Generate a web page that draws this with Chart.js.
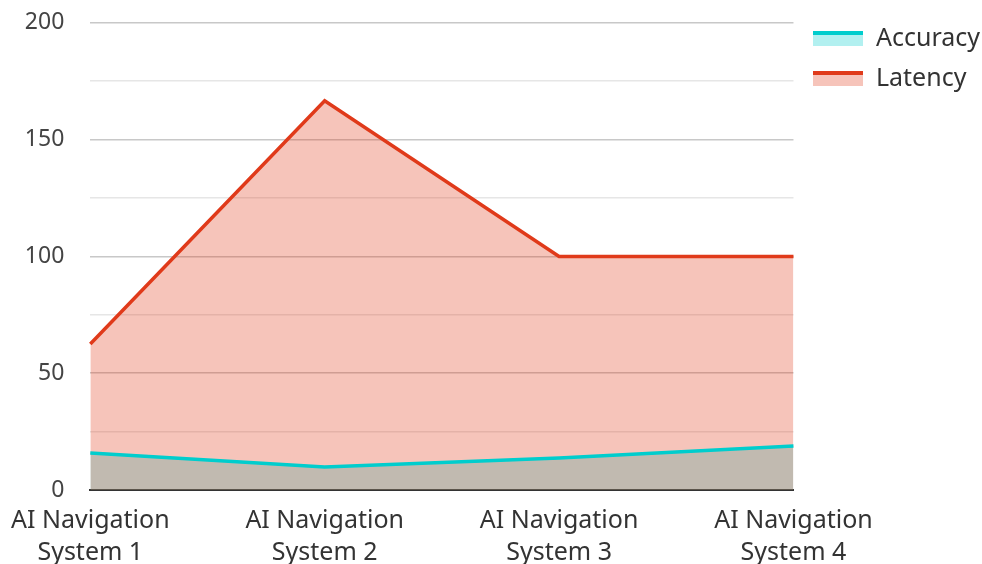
<!DOCTYPE html>
<html>
<head>
<meta charset="utf-8">
<script src="https://cdn.jsdelivr.net/npm/chart.js@4"></script>
<style>
html,body{margin:0;padding:0;background:#fff;}
#wrap{width:982px;height:564px;}
</style>
</head>
<body>
<div id="wrap"><canvas id="c" width="982" height="564"></canvas></div>
<script>
const categories = [["AI Navigation","System 1"],["AI Navigation","System 2"],["AI Navigation","System 3"],["AI Navigation","System 4"]];
const accuracy = [15.8, 9.8, 13.7, 18.8];
const latency = [62.5, 166.6, 100, 100];
const yTicks = [0, 50, 100, 150, 200];

const latColor = 'rgb(224,58,26)';
const latFill = 'rgba(224,58,26,0.3)';
const accColor = 'rgb(0,205,205)';
const accFill = 'rgba(0,205,205,0.3)';

function legendIcon(line, fill){
  const c = document.createElement('canvas');
  c.width = 50; c.height = 15;
  const x = c.getContext('2d');
  x.fillStyle = fill; x.fillRect(0,0,50,15);
  x.fillStyle = line; x.fillRect(0,0,50,4);
  return c;
}

Chart.defaults.font.family = '"Noto Sans", "Open Sans", sans-serif';
Chart.defaults.font.size = 22;

new Chart(document.getElementById('c'), {
  type: 'line',
  data: {
    labels: categories,
    datasets: [
      {label:'Latency', data: latency, borderColor: latColor, backgroundColor: latFill, fill: 'origin', borderWidth: 3.5, pointRadius: 0, tension: 0, pointStyle: legendIcon(latColor, latFill)},
      {label:'Accuracy', data: accuracy, borderColor: accColor, backgroundColor: accFill, fill: 'origin', borderWidth: 3.5, pointRadius: 0, tension: 0, pointStyle: legendIcon(accColor, accFill)}
    ]
  },
  options: {
    responsive: false,
    animation: false,
    layout: {padding: {left: 0, top: 11, right: -8, bottom: -16}},
    plugins: {
      filler: {drawTime: 'beforeDatasetsDraw'},
      tooltip: {enabled: false},
      legend: {
        position: 'right', align: 'start', reverse: true, maxWidth: 220,
        labels: {usePointStyle: true, pointStyleWidth: 50, boxWidth: 50, boxHeight: 15, padding: 15, color: '#333', font: {size: 25}}
      }
    },
    scales: {
      x: {
        offset: false,
        grid: {display: false, drawTicks: true, tickLength: 4},
        border: {display: true, color: '#333', width: 2},
        ticks: {color: '#333', padding: 11, maxRotation: 0, autoSkip: false, font: {size: 25, lineHeight: 1.28}}
      },
      y: {
        min: 0, max: 200,
        border: {display: false},
        grid: {drawTicks: true, tickLength: 17, tickColor: 'rgba(0,0,0,0)', lineWidth: 1.5, color: ctx => (ctx.tick && ctx.tick.value % 50 === 0) ? '#c8c8c8' : '#e6e6e6'},
        ticks: {stepSize: 25, padding: 9, color: '#444', font: {size: 23}, callback: v => yTicks.includes(v) ? String(v) : ''}
      },
      y2: {
        type: 'linear', position: 'right', display: true,
        grid: {display: false}, border: {display: false}, ticks: {display: false},
        afterFit: s => { s.width = 5; }
      }
    }
  }
});
</script>
</body>
</html>
